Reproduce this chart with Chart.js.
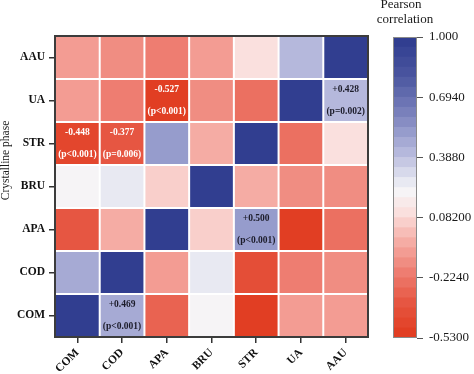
<!DOCTYPE html>
<html>
<head>
<meta charset="utf-8">
<script src="https://cdn.jsdelivr.net/npm/chart.js@4.4.0/dist/chart.umd.min.js"></script>
<style>
  html, body { margin: 0; padding: 0; background: #ffffff; }
  #wrap { position: relative; width: 474px; height: 374px; overflow: hidden; background: #fff; }
  #main { position: absolute; left: 0; top: 0; }
  #cbar { position: absolute; left: 370px; top: 0; }
</style>
</head>
<body>
<div id="wrap">
  <canvas id="main" width="474" height="374"></canvas>
  <canvas id="cbar" width="104" height="374"></canvas>
</div>
<script>
// ---------------- DATA ----------------
const columns = ['COM', 'COD', 'APA', 'BRU', 'STR', 'UA', 'AAU'];
// rows listed bottom -> top
const rowLabels = ['COM', 'COD', 'APA', 'BRU', 'STR', 'UA', 'AAU'];
// values per row, in column order COM, COD, APA, BRU, STR, UA, AAU
const rowCOM = [1.000, 0.469, -0.31, 0.20, -0.50, -0.12, -0.11];
const rowCOD = [0.46, 1.000, -0.08, 0.24, -0.42, -0.22, -0.15];
const rowAPA = [-0.34, -0.06, 1.000, 0.08, 0.500, -0.50, -0.23];
const rowBRU = [0.20, 0.25, 0.07, 1.000, -0.06, -0.17, -0.15];
const rowSTR = [-0.448, -0.377, 0.51, -0.06, 1.000, -0.24, 0.13];
const rowUA  = [-0.10, -0.19, -0.527, -0.15, -0.23, 1.000, 0.428];
const rowAAU = [-0.12, -0.16, -0.21, -0.12, 0.13, 0.41, 1.000];
const rowValues = [rowCOM, rowCOD, rowAPA, rowBRU, rowSTR, rowUA, rowAAU];

const annotations = [
  { row: 'UA',  col: 'APA', value: '-0.527', p: '(p<0.001)' },
  { row: 'UA',  col: 'AAU', value: '+0.428', p: '(p=0.002)' },
  { row: 'STR', col: 'COM', value: '-0.448', p: '(p<0.001)' },
  { row: 'STR', col: 'COD', value: '-0.377', p: '(p=0.006)' },
  { row: 'APA', col: 'STR', value: '+0.500', p: '(p<0.001)' },
  { row: 'COM', col: 'COD', value: '+0.469', p: '(p<0.001)' }
];

const yTitle = 'Crystalline phase';
const cbTitle = ['Pearson', 'correlation'];
const cbMin = -0.53, cbMax = 1.0, cbSteps = 30;
const cbTickValues = [1.0, 0.694, 0.388, 0.082, -0.224, -0.53];
const cbTickLabels = ['1.000', '0.6940', '0.3880', '0.08200', '-0.2240', '-0.5300'];

// ---------------- COLOUR SCALE ----------------
const stops = [
  [-0.53, [224, 58, 30]],
  [-0.35, [230, 86, 66]],
  [-0.20, [238, 125, 112]],
  [-0.05, [245, 170, 162]],
  [0.10,  [250, 222, 220]],
  [0.22,  [246, 246, 248]],
  [0.40,  [185, 188, 222]],
  [0.60,  [125, 132, 190]],
  [0.80,  [75, 86, 160]],
  [1.00,  [45, 58, 142]]
];
function interp(v) {
  if (v <= stops[0][0]) return stops[0][1];
  for (let i = 1; i < stops.length; i++) {
    if (v <= stops[i][0]) {
      const [a, ca] = stops[i - 1], [b, cb] = stops[i];
      const t = (v - a) / (b - a);
      return ca.map((c, k) => Math.round(c + (cb[k] - c) * t));
    }
  }
  return stops[stops.length - 1][1];
}
const cbStep = (cbMax - cbMin) / cbSteps;
function bandIndex(v) {
  return Math.max(0, Math.min(cbSteps - 1, Math.floor((v - cbMin) / cbStep)));
}
function colorFor(v) {
  const mid = cbMin + (bandIndex(v) + 0.5) * cbStep;
  const c = interp(mid);
  return `rgb(${c[0]},${c[1]},${c[2]})`;
}

const SERIF = '"Liberation Serif", "Times New Roman", serif';

// ---------------- MAIN HEATMAP ----------------
const datasets = rowValues.map((vals, r) => ({
  label: rowLabels[r],
  data: columns.map(() => [r, r + 1]),
  backgroundColor: vals.map(colorFor),
  borderColor: '#ffffff',
  borderWidth: 1,
  borderSkipped: false,
  inflateAmount: 0,
  grouped: false,
  barPercentage: 1,
  categoryPercentage: 1
}));

const framePlugin = {
  id: 'frame',
  afterDatasetsDraw(chart) {
    const { ctx, chartArea: a } = chart;
    ctx.save();
    ctx.strokeStyle = '#3c3c3c';
    ctx.lineWidth = 2;
    ctx.strokeRect(a.left, a.top, a.right - a.left, a.bottom - a.top);
    ctx.restore();
  }
};

const annotPlugin = {
  id: 'annot',
  afterDatasetsDraw(chart) {
    const { ctx } = chart;
    const xs = chart.scales.x, ys = chart.scales.y;
    ctx.save();
    ctx.font = 'bold 9.5px ' + SERIF;
    ctx.textAlign = 'center';
    ctx.textBaseline = 'middle';
    annotations.forEach(an => {
      const ci = columns.indexOf(an.col), ri = rowLabels.indexOf(an.row);
      const v = rowValues[ri][ci];
      const x = xs.getPixelForValue(ci);
      const y = ys.getPixelForValue(ri + 0.5);
      ctx.fillStyle = v < 0 ? '#ffffff' : '#1c1c2a';
      ctx.fillText(an.value, x, y - 11);
      ctx.fillText(an.p, x, y + 11);
    });
    ctx.restore();
  }
};

const yTitlePlugin = {
  id: 'ytitle',
  afterDraw(chart) {
    const { ctx, chartArea: a } = chart;
    ctx.save();
    ctx.font = '11.5px ' + SERIF;
    ctx.fillStyle = '#1a1a1a';
    ctx.textAlign = 'center';
    ctx.textBaseline = 'middle';
    ctx.translate(6, (a.top + a.bottom) / 2 - 26);
    ctx.rotate(-Math.PI / 2);
    ctx.fillText(yTitle, 0, 0);
    ctx.restore();
  }
};

new Chart(document.getElementById('main'), {
  type: 'bar',
  data: { labels: columns, datasets },
  options: {
    responsive: false,
    animation: false,
    devicePixelRatio: 1,
    layout: { padding: { top: 36, right: 106, left: 0, bottom: 0 } },
    plugins: { legend: { display: false }, tooltip: { enabled: false }, title: { display: false } },
    scales: {
      x: {
        type: 'category',
        offset: true,
        grid: { display: true, drawOnChartArea: false, drawTicks: true, tickLength: 6, offset: false, color: '#333', lineWidth: 1.5 },
        border: { display: true, color: '#3c3c3c', width: 2 },
        ticks: { font: { family: SERIF, size: 11.5, weight: 'bold' }, color: '#111', maxRotation: 45, minRotation: 45, padding: 3, autoSkip: false },
        afterFit(s) { s.height = 37; }
      },
      y: {
        type: 'linear',
        min: 0, max: 7,
        afterBuildTicks(axis) { axis.ticks = rowLabels.map((_, i) => ({ value: i + 0.5 })); },
        grid: { display: true, drawOnChartArea: false, drawTicks: true, tickLength: 6, color: '#333', lineWidth: 1.5 },
        border: { display: true, color: '#3c3c3c', width: 2 },
        ticks: {
          font: { family: SERIF, size: 11.5, weight: 'bold' }, color: '#111', padding: 4,
          callback(v) { return rowLabels[Math.floor(v)]; }
        },
        afterFit(s) { s.width = 55; }
      }
    }
  },
  plugins: [framePlugin, annotPlugin, yTitlePlugin]
});

// ---------------- COLOUR BAR ----------------
const cbDatasets = [];
for (let i = 0; i < cbSteps; i++) {
  const lo = cbMin + i * cbStep, hi = lo + cbStep;
  cbDatasets.push({
    data: [[lo, hi]],
    backgroundColor: colorFor(lo + cbStep / 2),
    borderWidth: 0,
    grouped: false,
    barPercentage: 1,
    categoryPercentage: 1
  });
}

const cbFramePlugin = {
  id: 'cbframe',
  afterDatasetsDraw(chart) {
    const { ctx, chartArea: a } = chart;
    ctx.save();
    ctx.strokeStyle = '#8a8a8a';
    ctx.lineWidth = 1;
    ctx.strokeRect(a.left + 0.5, a.top + 0.5, a.right - a.left - 1, a.bottom - a.top - 1);
    ctx.font = '13px ' + SERIF;
    ctx.fillStyle = '#1a1a1a';
    ctx.textAlign = 'center';
    ctx.textBaseline = 'middle';
    const cx = (a.left + a.right) / 2;
    ctx.fillText(cbTitle[0], cx - 4, a.top - 32);
    ctx.fillText(cbTitle[1], cx, a.top - 17);
    ctx.restore();
  }
};

new Chart(document.getElementById('cbar'), {
  type: 'bar',
  data: { labels: [''], datasets: cbDatasets },
  options: {
    responsive: false,
    animation: false,
    devicePixelRatio: 1,
    layout: { padding: { top: 37, left: 23, right: 0, bottom: 36 } },
    plugins: { legend: { display: false }, tooltip: { enabled: false } },
    scales: {
      x: { display: false },
      y: {
        type: 'linear',
        position: 'right',
        min: cbMin, max: cbMax,
        afterBuildTicks(axis) { axis.ticks = cbTickValues.map(v => ({ value: v })); },
        grid: { display: true, drawOnChartArea: false, drawTicks: true, tickLength: 6, color: '#555', lineWidth: 1 },
        border: { display: false },
        ticks: {
          font: { family: SERIF, size: 13 }, color: '#1a1a1a', padding: 6,
          callback(v) { const i = cbTickValues.findIndex(t => Math.abs(t - v) < 1e-6); return i >= 0 ? cbTickLabels[i] : ''; }
        },
        afterFit(s) { s.width = 57; }
      }
    }
  },
  plugins: [cbFramePlugin]
});
</script>
</body>
</html>
